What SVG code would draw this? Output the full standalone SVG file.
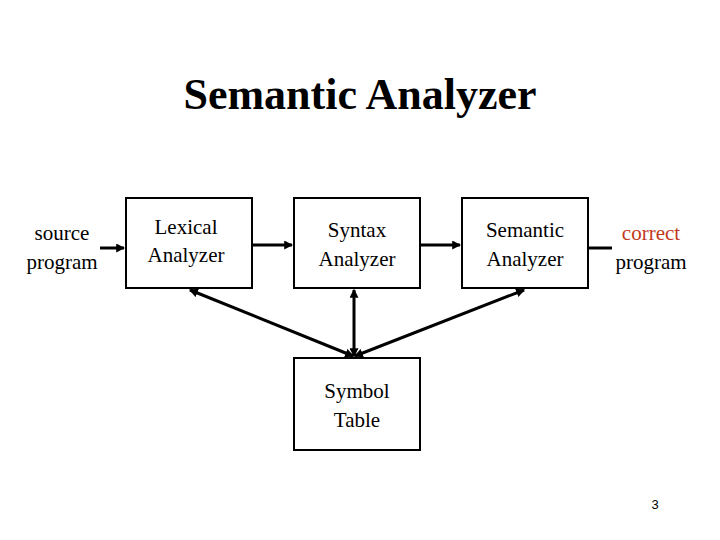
<svg xmlns="http://www.w3.org/2000/svg" width="720" height="540" viewBox="0 0 720 540">
<style>
.b{fill:#fff;stroke:#000;stroke-width:2}
.t{font-family:"Liberation Serif",serif;font-size:21px;text-anchor:middle}
.c{stroke:#000;stroke-width:3;fill:none}
</style>
<defs>
<marker id="a" markerWidth="3" markerHeight="3" refX="2.6" refY="1.5" orient="auto-start-reverse" markerUnits="strokeWidth"><path d="M0,0L3,1.5L0,3z"/></marker>
</defs>
<rect width="720" height="540" fill="#fff"/>
<text x="360" y="109" font-family="Liberation Serif,serif" font-size="44" font-weight="bold" text-anchor="middle">Semantic Analyzer</text>
<text class="t" x="62" y="240">source</text><text class="t" x="62" y="269">program</text>
<text class="t" x="651" y="240" fill="#c0391b">correct</text><text class="t" x="651" y="269">program</text>
<g id="lexical"><rect class="b" x="126" y="198" width="126" height="90"/><text class="t" x="186" y="234">Lexical</text><text class="t" x="186" y="262">Analyzer</text></g>
<g id="syntax"><rect class="b" x="294" y="198" width="126" height="90"/><text class="t" x="357" y="237">Syntax</text><text class="t" x="357" y="266">Analyzer</text></g>
<g id="semantic"><rect class="b" x="462" y="198" width="126" height="90"/><text class="t" x="525" y="237">Semantic</text><text class="t" x="525" y="266">Analyzer</text></g>
<g id="symtab"><rect class="b" x="294" y="358" width="126" height="92"/><text class="t" x="357" y="398">Symbol</text><text class="t" x="357" y="427">Table</text></g>
<g id="connectors">
<line class="c" x1="100" y1="248" x2="124" y2="248" stroke-width="2.5" marker-end="url(#a)"/>
<line class="c" x1="252" y1="245" x2="292" y2="245" marker-end="url(#a)"/>
<line class="c" x1="420" y1="245" x2="460" y2="245" marker-end="url(#a)"/>
<line class="c" x1="588" y1="248" x2="612" y2="248"/>
<line class="c" x1="353" y1="356" x2="190" y2="290" marker-start="url(#a)" marker-end="url(#a)"/>
<line class="c" x1="354" y1="356" x2="354" y2="290" marker-start="url(#a)" marker-end="url(#a)"/>
<line class="c" x1="355" y1="356" x2="524" y2="290" marker-start="url(#a)" marker-end="url(#a)"/>
</g>
<text x="655" y="509" font-family="Liberation Sans,sans-serif" font-size="13" text-anchor="middle">3</text>
</svg>
